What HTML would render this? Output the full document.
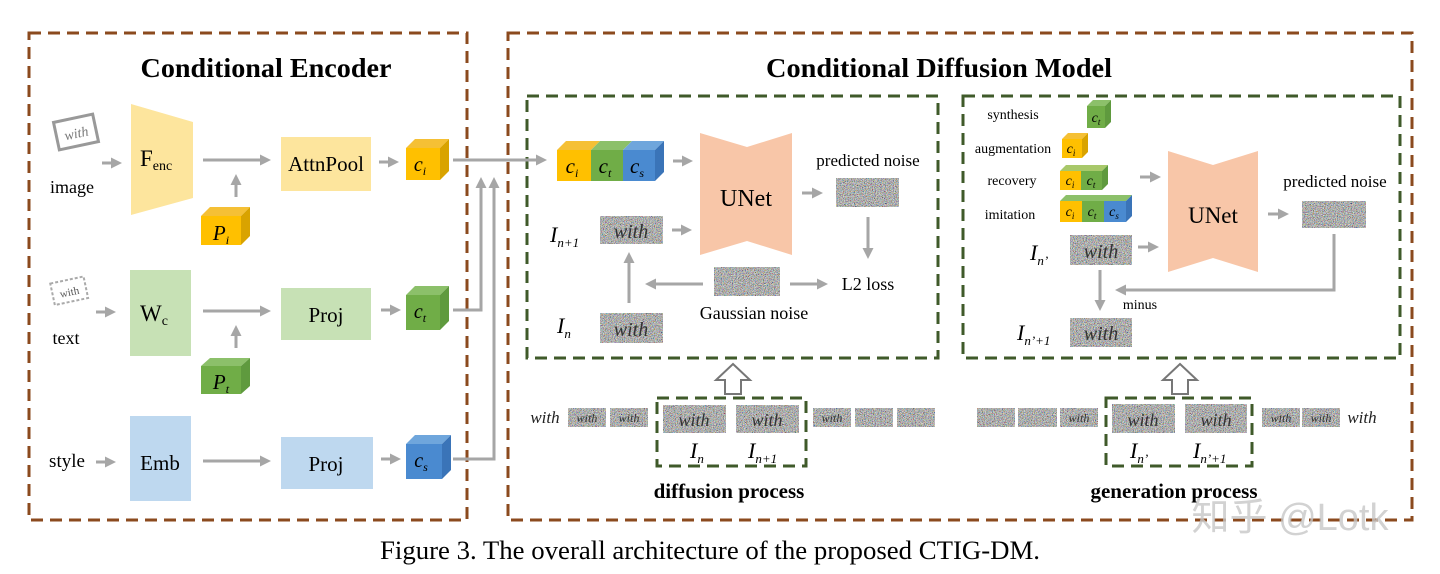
<!DOCTYPE html>
<html><head><meta charset="utf-8"><style>
html,body{margin:0;padding:0;background:#fff;}
svg{display:block;font-family:"Liberation Serif",serif;}
</style></head><body>
<svg width="1440" height="574" viewBox="0 0 1440 574" xmlns="http://www.w3.org/2000/svg">
<defs>
<filter id="nz" x="0" y="0" width="100%" height="100%">
<feTurbulence type="fractalNoise" baseFrequency="1.1" numOctaves="2" seed="3" result="t"/>
<feColorMatrix in="t" type="matrix" values="1.4 0.4 0 0 -0.47  0.3 1.3 0.3 0 -0.52  0 0.4 1.4 0 -0.47  0 0 0 0 1"/>
</filter>
<marker id="ah" markerWidth="11" markerHeight="11" refX="6" refY="5.5" orient="auto" markerUnits="userSpaceOnUse">
<path d="M0,0 L11,5.5 L0,11 z" fill="#a6a6a6"/></marker>
</defs>

<g fill="none" stroke="#8b4a1e" stroke-width="3" stroke-dasharray="12,7">
<rect x="29" y="33" width="438" height="487"/>
<rect x="508" y="33" width="904" height="487"/>
</g>
<g fill="none" stroke="#3f5a2a" stroke-width="3" stroke-dasharray="12,7">
<rect x="527" y="96" width="411" height="262"/>
<rect x="963" y="96" width="437" height="262"/>
<rect x="657" y="398" width="149" height="68"/>
<rect x="1106" y="398" width="146" height="68"/>
</g>

<text x="266" y="77" font-size="27" font-weight="bold" text-anchor="middle" textLength="251" lengthAdjust="spacingAndGlyphs">Conditional Encoder</text>
<text x="939" y="77" font-size="27" font-weight="bold" text-anchor="middle" textLength="346" lengthAdjust="spacingAndGlyphs">Conditional Diffusion Model</text>

<g transform="rotate(-12 76 132)"><rect x="56" y="118" width="40" height="28" fill="#fff" stroke="#999" stroke-width="3"/><text x="76" y="138" font-size="14" text-anchor="middle" fill="#777" font-style="italic">with</text></g>
<text x="72" y="193" font-size="18" text-anchor="middle">image</text>
<g transform="rotate(-12 68 290)"><rect x="52" y="280" width="34" height="22" fill="#fff" stroke="#aaa" stroke-width="2" stroke-dasharray="3,2"/><text x="69" y="296" font-size="11" text-anchor="middle" fill="#555">with</text></g>
<text x="66" y="344" font-size="18" text-anchor="middle">text</text>
<text x="67" y="467" font-size="19" text-anchor="middle">style</text>

<polygon points="131,104 193,122 193,198 131,215" fill="#fde59d"/>
<text x="140" y="166" font-size="23">F<tspan font-size="14" dy="4">enc</tspan></text>
<rect x="130" y="270" width="61" height="86" fill="#c7e1b5"/>
<text x="140" y="321" font-size="23">W<tspan font-size="14" dy="4">c</tspan></text>
<rect x="130" y="416" width="61" height="85" fill="#bed8ef"/>
<text x="160" y="470" font-size="21" text-anchor="middle">Emb</text>

<rect x="281" y="137" width="90" height="54" fill="#fde59d"/>
<text x="326" y="171" font-size="21" text-anchor="middle">AttnPool</text>
<rect x="281" y="288" width="90" height="52" fill="#c7e1b5"/>
<text x="326" y="322" font-size="21" text-anchor="middle">Proj</text>
<rect x="281" y="437" width="92" height="52" fill="#bed8ef"/>
<text x="326" y="471" font-size="21" text-anchor="middle">Proj</text>

<g>
<polygon points="201,216 210,207 250,207 241,216" fill="#f5c035"/><polygon points="241,216 250,207 250,236 241,245" fill="#d9a300"/><rect x="201" y="216" width="40" height="29" fill="#ffc000"/>
<text x="221" y="240" font-size="21" font-style="italic" text-anchor="middle">P<tspan font-size="12" dy="4">i</tspan></text>
<polygon points="201,366 210,358 250,358 241,366" fill="#8cc06a"/><polygon points="241,366 250,358 250,386 241,394" fill="#5f9a3e"/><rect x="201" y="366" width="40" height="28" fill="#70ad47"/>
<text x="221" y="389" font-size="21" font-style="italic" text-anchor="middle">P<tspan font-size="12" dy="4">t</tspan></text>

<polygon points="406,148 415,139 449,139 440,148" fill="#f5c035"/><polygon points="440,148 449,139 449,171 440,180" fill="#d9a300"/><rect x="406" y="148" width="34" height="32" fill="#ffc000"/>
<text x="420" y="171" font-size="20" font-style="italic" text-anchor="middle">c<tspan font-size="12" dy="4">i</tspan></text>
<polygon points="406,295 415,286 449,286 440,295" fill="#8cc06a"/><polygon points="440,295 449,286 449,321 440,330" fill="#5f9a3e"/><rect x="406" y="295" width="34" height="35" fill="#70ad47"/>
<text x="420" y="318" font-size="20" font-style="italic" text-anchor="middle">c<tspan font-size="12" dy="4">t</tspan></text>
<polygon points="406,444 415,435 451,435 442,444" fill="#6fa6dc"/><polygon points="442,444 451,435 451,470 442,479" fill="#3a74b8"/><rect x="406" y="444" width="36" height="35" fill="#4a8ad0"/>
<text x="421" y="467" font-size="20" font-style="italic" text-anchor="middle">c<tspan font-size="12" dy="4">s</tspan></text>
</g>

<g stroke="#a6a6a6" stroke-width="3" fill="none" marker-end="url(#ah)">
<line x1="102" y1="163" x2="117" y2="163"/>
<line x1="96" y1="312" x2="111" y2="312"/>
<line x1="96" y1="462" x2="111" y2="462"/>
<line x1="203" y1="160" x2="266" y2="160"/>
<line x1="203" y1="311" x2="266" y2="311"/>
<line x1="203" y1="461" x2="266" y2="461"/>
<line x1="236" y1="197" x2="236" y2="179"/>
<line x1="236" y1="348" x2="236" y2="330"/>
<line x1="379" y1="162" x2="394" y2="162"/>
<line x1="381" y1="310" x2="396" y2="310"/>
<line x1="381" y1="459" x2="396" y2="459"/>
<polyline points="453,310 481,310 481,182"/>
<polyline points="453,459 494,459 494,182"/>
<line x1="453" y1="160" x2="542" y2="160"/>
</g>

<polygon points="557,150 566,141 600,141 591,150" fill="#f5c035"/>
<polygon points="591,150 600,141 632,141 623,150" fill="#8cc06a"/>
<polygon points="623,150 632,141 664,141 655,150" fill="#6fa6dc"/>
<polygon points="655,150 664,141 664,172 655,181" fill="#3a74b8"/>
<rect x="557" y="150" width="34" height="31" fill="#ffc000"/>
<rect x="591" y="150" width="32" height="31" fill="#70ad47"/>
<rect x="623" y="150" width="32" height="31" fill="#4a8ad0"/>
<text x="572" y="173" font-size="21" font-style="italic" text-anchor="middle">c<tspan font-size="12" dy="4">i</tspan></text>
<text x="605" y="173" font-size="21" font-style="italic" text-anchor="middle">c<tspan font-size="12" dy="4">t</tspan></text>
<text x="637" y="173" font-size="21" font-style="italic" text-anchor="middle">c<tspan font-size="12" dy="4">s</tspan></text>

<polygon points="700,133 747,147 792,133 792,255 747,241 700,255" fill="#f8c6a8"/>
<text x="746" y="206" font-size="24" text-anchor="middle">UNet</text>
<text x="868" y="166" font-size="17" text-anchor="middle">predicted noise</text>
<rect x="836" y="178" width="63" height="29" filter="url(#nz)"/>
<text x="868" y="290" font-size="18" text-anchor="middle">L2 loss</text>
<rect x="714" y="267" width="66" height="29" filter="url(#nz)"/>
<text x="754" y="319" font-size="18" text-anchor="middle">Gaussian noise</text>
<text x="550" y="242" font-size="22" font-style="italic">I<tspan font-size="13" dy="5">n+1</tspan></text>
<rect x="600" y="216" width="63" height="28" filter="url(#nz)"/>
<text x="631" y="238" font-size="20" text-anchor="middle" fill="#333" font-style="italic">with</text>
<text x="557" y="333" font-size="22" font-style="italic">I<tspan font-size="13" dy="5">n</tspan></text>
<rect x="600" y="313" width="63" height="30" filter="url(#nz)"/>
<text x="631" y="336" font-size="20" text-anchor="middle" fill="#333" font-style="italic">with</text>

<g stroke="#a6a6a6" stroke-width="3" fill="none" marker-end="url(#ah)">
<line x1="673" y1="161" x2="688" y2="161"/>
<line x1="672" y1="230" x2="687" y2="230"/>
<line x1="802" y1="193" x2="818" y2="193"/>
<line x1="868" y1="217" x2="868" y2="254"/>
<line x1="790" y1="284" x2="823" y2="284"/>
<line x1="703" y1="284" x2="650" y2="284"/>
<line x1="629" y1="303" x2="629" y2="257"/>
<line x1="1140" y1="177" x2="1156" y2="177"/>
<line x1="1268" y1="214" x2="1284" y2="214"/>
<line x1="1138" y1="247" x2="1154" y2="247"/>
<polyline points="1334,234 1334,290 1120,290"/>
<line x1="1100" y1="270" x2="1100" y2="306"/>
</g>

<g font-size="14">
<text x="1013" y="119" text-anchor="middle">synthesis</text>
<text x="1013" y="153" text-anchor="middle">augmentation</text>
<text x="1012" y="185" text-anchor="middle">recovery</text>
<text x="1010" y="219" text-anchor="middle">imitation</text>
</g>
<g font-size="14" font-style="italic" text-anchor="middle">
<polygon points="1087,106 1093,100 1111,100 1105,106" fill="#8cc06a"/><polygon points="1105,106 1111,100 1111,122 1105,128" fill="#5f9a3e"/><rect x="1087" y="106" width="18" height="22" fill="#70ad47"/><text x="1096" y="122">c<tspan font-size="9" dy="3">t</tspan></text>
<polygon points="1062,139 1068,133 1088,133 1082,139" fill="#f5c035"/><polygon points="1082,139 1088,133 1088,152 1082,158" fill="#d9a300"/><rect x="1062" y="139" width="20" height="19" fill="#ffc000"/><text x="1071" y="153">c<tspan font-size="9" dy="3">i</tspan></text>
<polygon points="1060,171 1066,165 1108,165 1102,171" fill="#a8c86a"/><polygon points="1102,171 1108,165 1108,184 1102,190" fill="#5f9a3e"/><rect x="1060" y="171" width="21" height="19" fill="#ffc000"/><rect x="1081" y="171" width="21" height="19" fill="#70ad47"/><text x="1070" y="185">c<tspan font-size="9" dy="3">i</tspan></text><text x="1091" y="185">c<tspan font-size="9" dy="3">t</tspan></text>
<polygon points="1060,201 1066,195 1132,195 1126,201" fill="#8cc06a"/><polygon points="1126,201 1132,195 1132,216 1126,222" fill="#3a74b8"/><rect x="1060" y="201" width="22" height="21" fill="#ffc000"/><rect x="1082" y="201" width="22" height="21" fill="#70ad47"/><rect x="1104" y="201" width="22" height="21" fill="#4a8ad0"/><text x="1070" y="216">c<tspan font-size="9" dy="3">i</tspan></text><text x="1092" y="216">c<tspan font-size="9" dy="3">t</tspan></text><text x="1114" y="216">c<tspan font-size="9" dy="3">s</tspan></text>
</g>
<polygon points="1168,151 1213,165 1258,151 1258,272 1213,258 1168,272" fill="#f8c6a8"/>
<text x="1213" y="223" font-size="23" text-anchor="middle">UNet</text>
<text x="1335" y="187" font-size="17" text-anchor="middle">predicted noise</text>
<rect x="1302" y="201" width="64" height="27" filter="url(#nz)"/>
<text x="1030" y="260" font-size="22" font-style="italic">I<tspan font-size="13" dy="5">n’</tspan></text>
<rect x="1070" y="235" width="62" height="30" filter="url(#nz)"/>
<text x="1101" y="258" font-size="20" text-anchor="middle" fill="#333" font-style="italic">with</text>
<text x="1140" y="309" font-size="14" text-anchor="middle">minus</text>
<text x="1017" y="340" font-size="22" font-style="italic">I<tspan font-size="13" dy="5">n’+1</tspan></text>
<rect x="1070" y="318" width="62" height="29" filter="url(#nz)"/>
<text x="1101" y="340" font-size="20" text-anchor="middle" fill="#333" font-style="italic">with</text>

<polygon points="733,364 750,380 741,380 741,394 725,394 725,380 716,380" fill="#fff" stroke="#777" stroke-width="2"/>
<polygon points="1180,364 1197,380 1188,380 1188,394 1172,394 1172,380 1163,380" fill="#fff" stroke="#777" stroke-width="2"/>

<text x="545" y="423" font-size="17" text-anchor="middle" fill="#222" font-style="italic">with</text>
<g>
<rect x="568" y="408" width="38" height="19" filter="url(#nz)"/>
<rect x="610" y="408" width="38" height="19" filter="url(#nz)"/>
<rect x="663" y="405" width="63" height="28" filter="url(#nz)"/>
<rect x="736" y="405" width="63" height="28" filter="url(#nz)"/>
<rect x="813" y="408" width="38" height="19" filter="url(#nz)"/>
<rect x="855" y="408" width="38" height="19" filter="url(#nz)"/>
<rect x="897" y="408" width="38" height="19" filter="url(#nz)"/>
<rect x="977" y="408" width="38" height="19" filter="url(#nz)"/>
<rect x="1018" y="408" width="39" height="19" filter="url(#nz)"/>
<rect x="1060" y="408" width="38" height="19" filter="url(#nz)"/>
<rect x="1112" y="404" width="63" height="29" filter="url(#nz)"/>
<rect x="1185" y="404" width="62" height="29" filter="url(#nz)"/>
<rect x="1262" y="408" width="38" height="19" filter="url(#nz)"/>
<rect x="1302" y="408" width="38" height="19" filter="url(#nz)"/>
</g>
<g font-style="italic" text-anchor="middle" fill="#333">
<text x="694" y="426" font-size="18">with</text><text x="767" y="426" font-size="18">with</text>
<text x="1143" y="426" font-size="18">with</text><text x="1216" y="426" font-size="18">with</text>
<text x="587" y="422" font-size="12">with</text><text x="629" y="422" font-size="12">with</text>
<text x="832" y="422" font-size="12">with</text>
<text x="1079" y="422" font-size="12">with</text>
<text x="1281" y="422" font-size="12">with</text><text x="1321" y="422" font-size="12">with</text>
</g>
<text x="1362" y="423" font-size="17" text-anchor="middle" fill="#222" font-style="italic">with</text>
<text x="690" y="458" font-size="22" font-style="italic">I<tspan font-size="13" dy="5">n</tspan></text>
<text x="748" y="458" font-size="22" font-style="italic">I<tspan font-size="13" dy="5">n+1</tspan></text>
<text x="1130" y="458" font-size="22" font-style="italic">I<tspan font-size="13" dy="5">n’</tspan></text>
<text x="1193" y="458" font-size="22" font-style="italic">I<tspan font-size="13" dy="5">n’+1</tspan></text>
<text x="729" y="498" font-size="21" font-weight="bold" text-anchor="middle">diffusion process</text>
<text x="1174" y="498" font-size="21" font-weight="bold" text-anchor="middle">generation process</text>

<text x="1290" y="530" font-size="38" text-anchor="middle" fill="#c8c8c8" opacity="0.8" font-family="'Liberation Sans','Noto Sans CJK SC',sans-serif">知乎 @Lotk</text>
<text x="710" y="559" font-size="26" text-anchor="middle" textLength="660" lengthAdjust="spacingAndGlyphs">Figure 3. The overall architecture of the proposed CTIG-DM.</text>
</svg>
</body></html>
